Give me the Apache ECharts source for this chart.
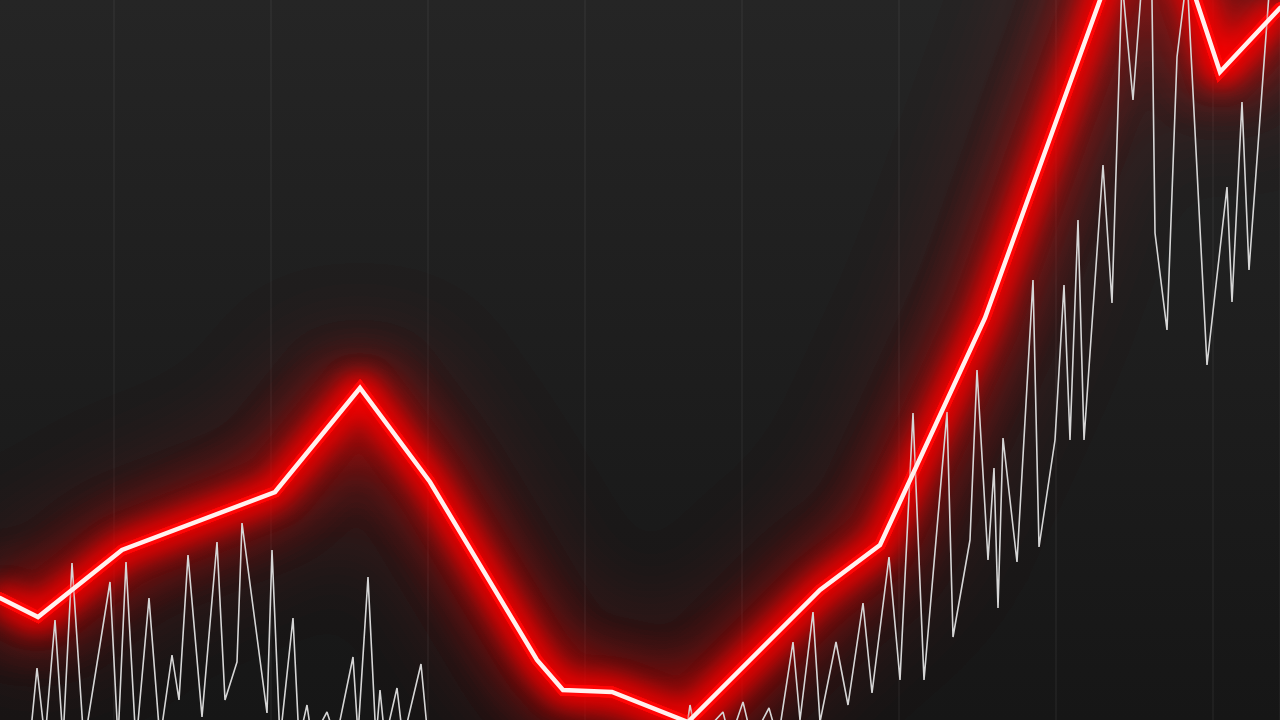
<!DOCTYPE html>
<html>
<head>
<meta charset="utf-8">
<style>
html,body{margin:0;padding:0;background:#1e1e1e;}
#chart{width:1280px;height:720px;}
</style>
<script src="https://cdn.jsdelivr.net/npm/echarts@6/dist/echarts.min.js"></script>
</head>
<body>
<div id="chart"></div>
<script>
// Red (glowing) trend line
var trendX = [0, 38, 122, 275, 360, 430, 537, 563, 612, 688, 820, 880, 985, 1100, 1150, 1220, 1280];
var trendV = [122, 103, 170, 228, 332, 238, 60, 30, 28, -2, 130, 175, 402, 720, 860, 648, 712];

// White jagged (noisy) series
var noiseX = [30, 37, 45, 55, 63, 72, 84, 110, 118, 126, 136, 149, 160, 172, 179, 188, 202, 217, 225, 237,
  242, 267, 272, 280, 293, 299, 307, 312, 327, 336, 353, 358, 368, 376, 380, 385, 397, 403, 421, 430,
  560, 685, 690, 697, 723, 730, 743, 752, 769, 778, 793, 800, 813, 820, 836, 848, 863, 872, 889, 900,
  913, 924, 947, 953, 970, 977, 988, 994, 998, 1003, 1017, 1033, 1039, 1055, 1064, 1070, 1078, 1084, 1103, 1112,
  1122, 1133, 1145, 1152, 1155, 1167, 1177, 1187, 1207, 1227, 1232, 1242, 1249, 1270, 1280];
var noiseV = [-20, 52, -20, 100, -20, 157, -25, 138, -20, 158, -25, 122, -20, 65, 20, 165, 3, 178, 20, 58,
  197, 7, 170, -20, 102, -20, 15, -20, 8, -20, 63, -15, 143, -20, 30, -20, 32, -20, 56, -40,
  -100, -20, 15, -20, 8, -20, 18, -20, 12, -20, 78, 0, 108, -2, 78, 15, 117, 27, 163, 40,
  307, 40, 308, 83, 180, 350, 160, 252, 112, 282, 158, 440, 173, 280, 435, 280, 500, 280, 555, 417,
  740, 620, 780, 720, 487, 390, 663, 745, 355, 533, 418, 618, 450, 740, 780];

function zip(xs, ys) { return xs.map(function (x, i) { return [x, ys[i]]; }); }
var trendData = zip(trendX, trendV);
var noiseData = zip(noiseX, noiseV);

function glow(width, color, blur, z) {
  return {
    type: 'line', data: trendData, symbol: 'none', z: z, silent: true,
    lineStyle: {width: width, color: color, shadowBlur: blur, shadowColor: '#ff0000', join: 'miter', cap: 'round'}
  };
}

var series = [];
[120, 120, 60, 60, 60, 26, 26, 26].forEach(function (b) { series.push(glow(11, '#ff0a0a', b, 1)); });
series.push({
  type: 'line', data: noiseData, symbol: 'none', z: 4, silent: true,
  lineStyle: {width: 1.6, color: '#d6d6d6'}
});
series.push(glow(4.5, '#fff0ee', 6, 5));

var chart = echarts.init(document.getElementById('chart'), null, {renderer: 'canvas'});
chart.setOption({
  animation: false,
  backgroundColor: {
    type: 'linear', x: 0, y: 0, x2: 0, y2: 1,
    colorStops: [{offset: 0, color: '#252525'}, {offset: 1, color: '#161616'}]
  },
  grid: {left: -43, right: 0, top: 0, bottom: 0, containLabel: false, outerBoundsMode: 'none'},
  xAxis: {
    type: 'value', min: -43, max: 1280, interval: 157,
    axisLine: {show: false}, axisTick: {show: false}, axisLabel: {show: false},
    splitLine: {show: true, lineStyle: {color: 'rgba(255,255,255,0.04)', width: 2}}
  },
  yAxis: {
    type: 'value', min: 0, max: 720,
    axisLine: {show: false}, axisTick: {show: false}, axisLabel: {show: false},
    splitLine: {show: false}
  },
  series: series
});
</script>
</body>
</html>
